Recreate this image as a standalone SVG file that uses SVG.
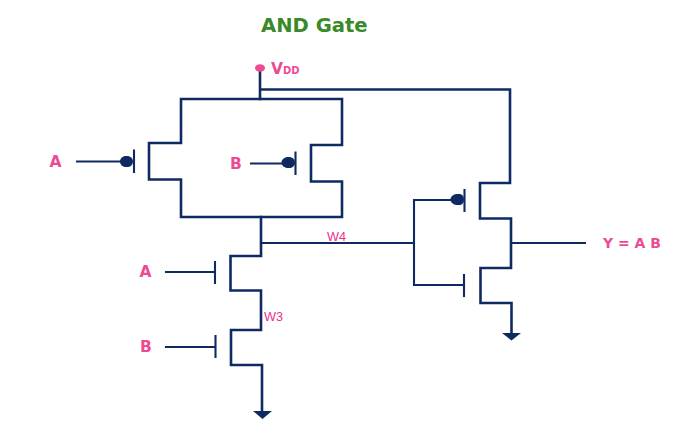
<svg xmlns="http://www.w3.org/2000/svg" width="676" height="422" viewBox="0 0 676 422">
<style>
.w{fill:none;stroke:#0f2a63;stroke-width:2.6;stroke-linejoin:miter;stroke-linecap:square}
.t{stroke-width:2.1}
.d{fill:#0f2a63;stroke:none}
.l{font-family:"DejaVu Sans","Liberation Sans",sans-serif;font-weight:700;fill:#ee4a94}
.s{font-family:"Liberation Sans",sans-serif;font-size:12.7px;fill:#ec2f8c}
</style>
<rect width="676" height="422" fill="#ffffff"/>
<text id="title" x="261" y="32" font-family="'DejaVu Sans','Liberation Sans',sans-serif" font-weight="700" font-size="19.600" fill="#3a8a2a">AND Gate</text>
<g id="connectors">
<path class="w" d="M260 69V99M260 89.500H510V183H480V218.500H511V268H480.500V303H511.500V333"/>
<path class="w" d="M181 99H342V145H311V181.500H342V217H181V179.500H149V143H181V99Z"/>
<path class="w" d="M261 217V256H230.500V290.500H261V330H231V365H262V412"/>
<path class="w t" d="M261 243H414M414 200V285M414 200H452M414 285H464M511 243H585"/>
<path class="d" d="M253 411H272L262.500 419Z"/>
<path class="d" d="M502 333H521L511.500 340.500Z"/>
</g>
<g id="vdd"><ellipse cx="260" cy="68" rx="5" ry="3.800" fill="#ee4a94"/>
<text class="l" x="271" y="74" font-size="15.500">V<tspan font-size="10">DD</tspan></text></g>
<g id="pmos-a"><path class="w t" d="M77 161.500H122M134 150.500V172"/><path class="d" d="M126 156C130 155.500 133 158 133 161.500C133 165 130 167.500 126 167C122.500 167 120 164.500 120 161.500C120 158.500 122.500 156 126 156Z"/>
<text class="l" x="49.500" y="167" font-size="15.500">A</text></g>
<g id="pmos-b"><path class="w t" d="M251 163.500H285M295.500 152.500V174"/><path class="d" d="M288 157C292 156.500 295 159 295 162.500C295 166 292 168.500 288 168C284.500 168 281.500 165.500 281.500 162.500C281.500 159.500 284.500 157 288 157Z"/>
<text class="l" x="230" y="169" font-size="15.500">B</text></g>
<g id="nmos-a"><path class="w t" d="M166 272H215M215 262V283"/>
<text class="l" x="139.500" y="277" font-size="15.500">A</text></g>
<g id="nmos-b"><path class="w t" d="M166 347H215.500M215.500 336V357"/>
<text class="l" x="140" y="352" font-size="15.500">B</text></g>
<g id="inv-p"><path class="w t" d="M464.500 190V211"/><path class="d" d="M458 194C462 193.500 464 196 464 199.500C464 203 462 205.500 458 205C454 205 450.500 203 450.500 199.500C450.500 196 454 194 458 194Z"/></g>
<g id="inv-n"><path class="w t" d="M464 275V296"/></g>
<g id="w4"><text class="s" x="327" y="241">W4</text></g>
<g id="w3"><text class="s" x="264" y="320.500">W3</text></g>
<g id="output"><text class="l" x="603" y="248" font-size="14">Y = A B</text></g>
</svg>
